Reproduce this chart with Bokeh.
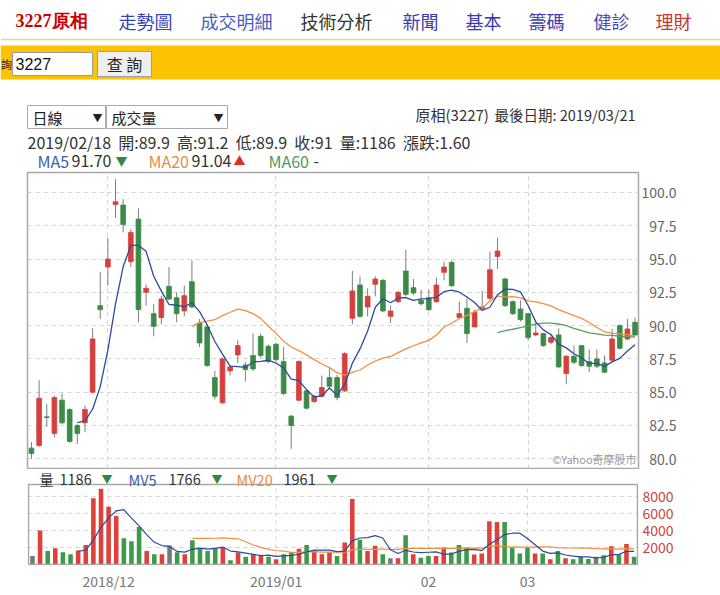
import numpy as np
import pandas as pd
from bokeh.plotting import figure
from bokeh.layouts import column
from bokeh.models import Range1d, FixedTicker, Label, CustomJSTickFormatter
from bokeh.core.properties import value
from bokeh.embed import file_html
from bokeh.resources import INLINE

# ---------------- data ----------------
opens = [80.8, 81.0, 83.15, 81.9, 84.4, 83.7, 82.5, 82.7, 85.0, 91.5,
         94.4, 99.1, 99.05, 94.8, 98.0, 92.5, 90.9, 90.6, 92.95, 92.1,
         91.1, 93.3, 90.2, 89.9, 86.1, 84.2, 86.6, 87.8, 87.05, 87.75,
         89.2, 88.45, 88.6, 87.3, 83.2, 84.4, 85.1, 84.3, 84.7, 86.1,
         86.1, 85.1, 90.55, 93.05, 91.4, 93.1, 93.4, 90.7, 91.8, 94.1,
         92.85, 91.9, 92.1, 91.8, 94.0, 94.75, 90.6, 91.3, 89.9, 91.3,
         92.05, 95.2, 93.5, 91.8, 91.25, 90.9, 89.3, 89.4, 88.75, 89.3,
         86.4, 87.7, 88.5, 87.3, 87.5, 87.2, 87.4, 90.0, 89.0, 90.25]
highs = [81.25, 85.9, 84.1, 84.75, 84.9, 83.8, 82.6, 84.0, 89.8, 94.05,
         96.6, 101.0, 99.5, 97.25, 98.8, 93.1, 91.6, 92.25, 94.4, 92.5,
         93.0, 94.9, 90.5, 90.1, 86.6, 87.6, 87.05, 88.9, 87.25, 89.4,
         89.4, 88.6, 88.7, 88.4, 83.3, 87.4, 85.2, 84.8, 86.25, 86.8,
         86.3, 88.0, 94.1, 93.7, 92.8, 93.7, 93.5, 91.5, 92.6, 95.7,
         93.5, 92.7, 92.7, 93.6, 94.8, 94.9, 91.8, 92.05, 91.2, 92.6,
         95.55, 96.6, 93.6, 91.9, 91.9, 90.95, 90.25, 89.45, 89.4, 89.8,
         87.8, 88.5, 88.5, 88.2, 88.2, 87.75, 89.75, 90.1, 90.5, 90.6]
lows = [80.0, 80.9, 82.4, 81.6, 82.6, 81.2, 81.1, 82.0, 84.9, 90.5,
        93.0, 98.1, 97.0, 94.4, 90.25, 91.5, 89.2, 90.1, 91.9, 90.25,
        90.7, 91.3, 88.4, 86.9, 84.45, 84.1, 86.25, 87.2, 85.8, 86.6,
        87.6, 87.2, 87.3, 84.8, 80.75, 84.3, 83.7, 84.2, 84.6, 85.3,
        84.4, 85.0, 90.1, 90.6, 90.7, 92.2, 91.0, 90.2, 91.7, 92.2,
        92.3, 91.5, 91.1, 91.7, 93.4, 92.9, 90.5, 88.7, 89.9, 91.2,
        91.9, 94.25, 91.4, 90.8, 90.3, 88.9, 89.2, 88.4, 88.6, 86.8,
        85.6, 87.1, 86.9, 86.5, 86.8, 86.45, 87.3, 88.2, 88.9, 89.2]
closes = [80.4, 84.55, 83.1, 84.6, 82.7, 81.3, 81.9, 83.7, 89.0, 91.2,
          95.0, 99.3, 97.6, 97.0, 91.2, 92.8, 89.95, 92.0, 92.0, 90.9,
          92.25, 91.4, 88.7, 87.0, 84.7, 87.5, 86.9, 88.5, 86.7, 86.75,
          87.75, 87.3, 87.45, 84.9, 82.5, 87.3, 83.8, 84.7, 85.35, 85.45,
          84.6, 87.9, 92.6, 90.7, 92.2, 93.5, 91.1, 91.1, 92.5, 92.35,
          92.45, 91.65, 91.2, 93.05, 94.4, 93.0, 90.9, 89.4, 91.0, 91.4,
          94.2, 95.6, 91.5, 90.9, 90.45, 89.1, 89.45, 88.5, 89.1, 86.9,
          87.7, 87.25, 87.0, 86.95, 86.95, 86.5, 89.0, 88.3, 89.75, 89.3]
volumes = [1000, 4000, 1600, 1900, 1450, 1200, 1650, 2300, 7800, 8900,
           6800, 5700, 3100, 2750, 4400, 1600, 1200, 1200, 2250, 1450,
           1200, 2850, 1900, 1600, 1900, 2000, 500, 1400, 900, 1200,
           1150, 900, 620, 1200, 1450, 1850, 2300, 1700, 1200, 1400,
           1000, 2600, 7700, 2900, 1600, 2200, 1200, 750, 750, 3450,
           1200, 800, 1000, 1000, 2000, 1400, 2300, 2000, 1186, 1300,
           5100, 5000, 5000, 2000, 1300, 2000, 1300, 1300, 620, 1600,
           750, 620, 900, 660, 900, 1100, 2150, 1200, 2400, 900]
date_tick_pos = [10, 32, 52, 65]
date_tick_labels = ["2018/12", "2019/01", "02", "03"]
price_ticks = [80.0, 82.5, 85.0, 87.5, 90.0, 92.5, 95.0, 97.5, 100.0]
vol_ticks = [2000, 4000, 6000, 8000]

# ---------------- style ----------------
FONT = "Noto Sans CJK TC"
RED = "#d6403c"
GREEN = "#3b8a47"
VRED = "#e0403a"
VGREEN = "#3d9a4b"
VGRAY = "#787878"
BLUE = "#2d4b9c"
ORANGE = "#f0903f"
MGREEN = "#55a062"
GRIDC = "#d2d2d2"
FRAMEC = "#a8a8a8"
TXT = "#333333"
DOWN = "#2e8b3e"
UPC = "#d9302c"

idx = np.arange(len(closes))
o = np.array(opens); h = np.array(highs); l = np.array(lows); c = np.array(closes)
vol = np.array(volumes, dtype=float)
cand_color = [RED if c[i] > o[i] else GREEN for i in idx]
vol_color = []
for i in idx:
    if i == 0 or abs(c[i] - c[i - 1]) < 1e-9:
        vol_color.append(VGRAY)
    elif c[i] > c[i - 1]:
        vol_color.append(VRED)
    else:
        vol_color.append(VGREEN)

SKIP = 2
def moving(arr, n):
    s = pd.Series(arr).rolling(n).mean().to_numpy()
    s[: n - 1 + SKIP] = np.nan
    return s

ma5, ma20, ma60 = moving(c, 5), moving(c, 20), moving(c, 60)
mv5, mv20 = moving(vol, 5), moving(vol, 20)

X0, X1 = -0.52, 79.45
FRAME_L, FRAME_R = 27, 638
PX_PER_UNIT = (FRAME_R - FRAME_L) / (X1 - X0)

def txt(fig, x, y, s, color=TXT, size="15px", font=FONT, style="normal", align="left"):
    fig.text(x=[x], y=[y], text=[s], text_color=color, text_font=value(font),
             text_font_size=size, text_font_style=style, text_baseline="middle", text_align=align)

# ---------------- header (page coordinates) ----------------
hd = figure(width=720, height=171, x_range=Range1d(0, 720), y_range=Range1d(171, 0),
            x_axis_location=None, y_axis_location=None, output_backend="svg",
            toolbar_location=None, min_border=0)
hd.grid.visible = False
hd.outline_line_color = None
try:
    hd.frame_align = False
except Exception:
    pass

txt(hd, 15, 20, "3227原相", color="#cc0000", size="18px", font="Liberation Serif", style="bold")
menu = [("走勢圖", 118, "#3344b8"), ("成交明細", 200, "#4a5cc4"), ("技術分析", 300, "#333333"),
        ("新聞", 402, "#3a3ab0"), ("基本", 465, "#3a3ab0"), ("籌碼", 528, "#3a3ab0"),
        ("健診", 593, "#4a4ab8"), ("理財", 655, "#cc3333")]
for s, x, col in menu:
    txt(hd, x, 20, s, color=col, size="18px")
hd.segment(x0=[0], y0=[39], x1=[720], y1=[39], line_color="#f2d675", line_width=1.5)
hd.quad(left=[0], right=[720], top=[45], bottom=[79], fill_color="#fbc300", line_color=None)
txt(hd, 0.5, 63.5, "詢", color="#222222", size="11px")
hd.quad(left=[12], right=[92], top=[52], bottom=[75], fill_color="white", line_color="#9a9a9a")
txt(hd, 15, 63.5, "3227", color="#111111", size="16px", font="Liberation Sans")
hd.quad(left=[97], right=[151], top=[51], bottom=[76], fill_color="#efefef", line_color="#a0a0a0")
txt(hd, 124, 63.5, "查 詢", color="#222222", size="16px", align="center")
hd.quad(left=[27, 106], right=[105, 227], top=[105, 105], bottom=[128, 128],
        fill_color="white", line_color="#aaaaaa")
txt(hd, 32, 116.5, "日線", size="15px", color="#222222")
txt(hd, 92, 116.5, "▼", size="10px", color="#222222")
txt(hd, 111, 116.5, "成交量", size="15px", color="#222222")
txt(hd, 213, 116.5, "▼", size="10px", color="#222222")
txt(hd, 415, 114, "原相(3227)", size="15px")
txt(hd, 494, 114, "最後日期: 2019/03/21", size="14.5px")
NB = "\u00a0\u00a0"
info = NB.join(["2019/02/18", "開:89.9", "高:91.2", "低:89.9", "收:91", "量:1186", "漲跌:1.60"])
txt(hd, 27, 141, info, size="16px")
ma_row = [("MA5", 37, "#3b5ea8", "16px"), ("91.70", 71, TXT, "16px"), ("▼", 115, DOWN, "12px"),
          ("MA20", 148, "#ea8a45", "16px"), ("91.04", 191, TXT, "16px"), ("▲", 233, UPC, "12px"),
          ("MA60", 268, "#4e9a5c", "16px"), ("-", 313, TXT, "16px")]
for s, x, col, sz in ma_row:
    txt(hd, x, 160, s, color=col, size=sz)

# ---------------- price chart ----------------
p = figure(width=720, height=298, x_range=Range1d(X0, X1), y_range=Range1d(79.27, 101.5),
           x_axis_location=None, y_axis_location="right", output_backend="svg",
           toolbar_location=None, min_border_left=FRAME_L, min_border_right=720 - FRAME_R,
           min_border_top=1, min_border_bottom=1)
p.outline_line_color = FRAMEC
p.outline_line_width = 1.5
p.xgrid.ticker = FixedTicker(ticks=date_tick_pos)
p.ygrid.ticker = FixedTicker(ticks=price_ticks)
for g in p.grid:
    g.grid_line_color = GRIDC
    g.grid_line_dash = "4 4"
ya = p.yaxis[0]
ya.ticker = FixedTicker(ticks=price_ticks)
ya.formatter = CustomJSTickFormatter(code="const s = tick.toFixed(1); return s.length < 5 ? '\u2007' + s : s;")
ya.axis_line_color = None
ya.major_tick_line_color = None
ya.minor_tick_line_color = None
ya.major_tick_out = 0
ya.major_tick_in = 0
ya.major_label_standoff = 3
ya.major_label_text_font = FONT
ya.major_label_text_font_size = "14px"
ya.major_label_text_color = "#666666"

p.segment(x0=idx, y0=l, x1=idx, y1=h, line_color="#7d7d7d", line_width=1)
p.vbar(x=idx, width=0.62, top=np.maximum(o, c), bottom=np.minimum(o, c),
       fill_color=cand_color, line_color=cand_color, line_width=0.8)
p.line(idx, ma20, line_color=ORANGE, line_width=1.3)
p.line(idx, ma60, line_color=MGREEN, line_width=1.3)
p.line(idx, ma5, line_color=BLUE, line_width=1.3)
p.add_layout(Label(x=79.2, y=79.97, text="©Yahoo奇摩股市", text_align="right", text_baseline="middle",
                   text_font=FONT, text_font_size="11px", text_color="#9a9a9a"))

# ---------------- volume chart (frame extended upward to hold the legend row) ----------------
VPX = 8.5 / 1000.0          # pixels per share-lot
VOL_BOX_TOP = 80 / VPX       # value at the top edge of the volume box
V_FRAME_TOP, V_FRAME_BOTTOM = 469, 565
pad = 1 / PX_PER_UNIT
v = figure(width=720, height=595 - V_FRAME_TOP, x_range=Range1d(X0 - pad, X1 + pad),
           y_range=Range1d(-1 / VPX, (564 - V_FRAME_TOP) / VPX),
           y_axis_location="right", output_backend="svg", toolbar_location=None,
           min_border_left=FRAME_L - 1, min_border_right=720 - FRAME_R - 1,
           min_border_top=0, min_border_bottom=595 - V_FRAME_BOTTOM)
v.outline_line_color = None
v.xgrid.visible = False
v.ygrid.ticker = FixedTicker(ticks=vol_ticks)
v.ygrid.grid_line_color = GRIDC
v.ygrid.grid_line_dash = "4 4"
v.segment(x0=date_tick_pos, y0=0, x1=date_tick_pos, y1=VOL_BOX_TOP,
          line_color=GRIDC, line_dash="4 4", line_width=1)
vya = v.yaxis[0]
vya.ticker = FixedTicker(ticks=vol_ticks)
vya.formatter = CustomJSTickFormatter(code="return tick.toFixed(0);")
vya.axis_line_color = None
vya.major_tick_line_color = None
vya.minor_tick_line_color = None
vya.major_tick_out = 0
vya.major_tick_in = 0
vya.major_label_standoff = 4
vya.major_label_text_font = FONT
vya.major_label_text_font_size = "14px"
vya.major_label_text_color = "#c9463f"
vxa = v.xaxis[0]
vxa.ticker = FixedTicker(ticks=date_tick_pos)
vxa.major_label_overrides = {t: s for t, s in zip(date_tick_pos, date_tick_labels)}
vxa.axis_line_color = None
vxa.major_tick_line_color = None
vxa.minor_tick_line_color = None
vxa.major_tick_out = 0
vxa.major_tick_in = 0
vxa.major_label_standoff = 5
vxa.major_label_text_font = FONT
vxa.major_label_text_font_size = "14px"
vxa.major_label_text_color = "#777777"

v.vbar(x=idx, width=0.6, top=vol, bottom=0, fill_color=vol_color, line_color=None)
v.line(idx, mv20, line_color=ORANGE, line_width=1.2)
v.line(idx, mv5, line_color=BLUE, line_width=1.2)
v.quad(left=[X0], right=[X1], bottom=[0], top=[VOL_BOX_TOP], fill_color=None,
       line_color=FRAMEC, line_width=1.5)

# volume legend row (inside the extended frame, above the box)
leg = [("量", 38, TXT, "14px"), ("1186", 58, TXT, "14.5px"), ("▼", 100, DOWN, "11px"),
       ("MV5", 127, "#3b5ea8", "14.5px"), ("1766", 167, TXT, "14.5px"), ("▼", 210, DOWN, "11px"),
       ("MV20", 235, "#ea8a45", "14.5px"), ("1961", 282, TXT, "14.5px"), ("▼", 325, DOWN, "11px")]
for s, x, col, sz in leg:
    v.add_layout(Label(x=x - (FRAME_L - 1), y=V_FRAME_BOTTOM - 478.5, x_units="screen", y_units="screen",
                       text=s, text_color=col, text_font=FONT, text_font_size=sz,
                       text_baseline="middle", text_align="left"))

layout = column(hd, p, v, spacing=0)
open("out.html", "w").write(file_html(layout, INLINE))
